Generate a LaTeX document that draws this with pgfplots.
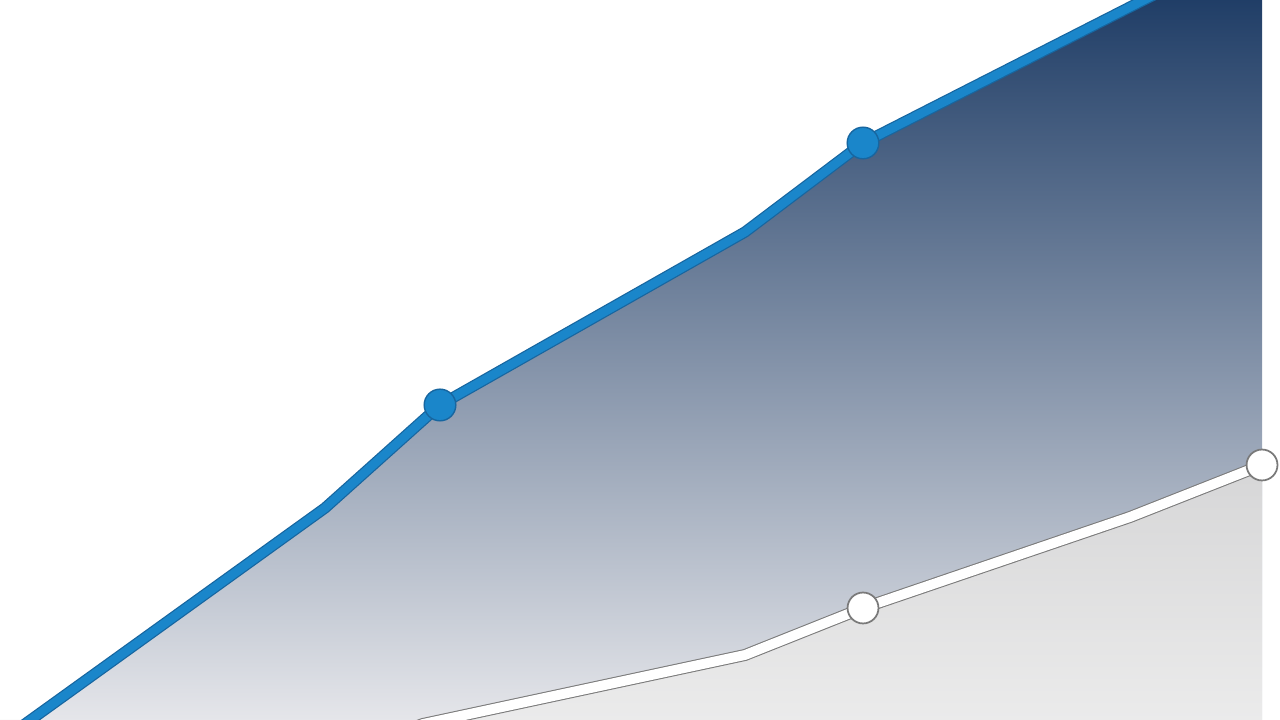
\documentclass[border=0pt]{standalone}
\usepackage{pgfplots}
\usepackage{pgfplotstable}
\pgfplotsset{compat=1.18}

\definecolor{lineblue}{HTML}{1A86CA}
\definecolor{edgeblue}{HTML}{1766A0}
\definecolor{navytop}{HTML}{10305C}
\definecolor{navymid}{HTML}{7E8DA6}
\definecolor{palebot}{HTML}{EBEBEE}
\definecolor{graytop}{HTML}{D6D6D7}
\definecolor{graybot}{HTML}{EFEFEF}
\definecolor{edgegray}{HTML}{7A7A7A}

\pgfplotstableread{
x y
0 -22
325 212
440 315
745 488
863 577
1130 713
1262 780
}\uppertab
\pgfplotstableread{
x y
440 315
863 577
1262 780
}\uppermarks
\pgfplotstableread{
x y
300 -50
423 -4
745 65
863 112
1130 203
1262 255
}\lowertab
\pgfplotstableread{
x y
423 -4
863 112
1262 255
}\lowermarks

\begin{document}
\begin{tikzpicture}
\begin{axis}[
    width=12.8cm, height=7.2cm,
    scale only axis,
    xmin=0, xmax=1280,
    ymin=0, ymax=720,
    hide axis,
    clip marker paths=true,
]
% shaded area under the upper series
\addplot[draw=none, top color=navytop, middle color=navymid, bottom color=palebot]
    table {\uppertab} \closedcycle;
% grey area under the lower series
\addplot[draw=none, top color=graytop, bottom color=graybot]
    table {\lowertab} \closedcycle;

% lower series: grey edge, white core
\addplot[edgegray, line width=3.4pt, line join=round] table {\lowertab};
\addplot[white, line width=2.8pt, line join=round] table {\lowertab};
\addplot[only marks, mark=*, mark size=4.4pt,
    mark options={fill=white, draw=edgegray, line width=0.5pt}]
    table {\lowermarks};

% upper series: dark edge, bright core
\addplot[edgeblue, line width=3.2pt, line join=round] table {\uppertab};
\addplot[lineblue, line width=2.5pt, line join=round] table {\uppertab};
\addplot[only marks, mark=*, mark size=4.5pt,
    mark options={fill=lineblue, draw=edgeblue, line width=0.4pt}]
    table {\uppermarks};
\end{axis}
\pgfresetboundingbox
\path (current axis.south west) rectangle (current axis.north east);
\end{tikzpicture}
\end{document}
